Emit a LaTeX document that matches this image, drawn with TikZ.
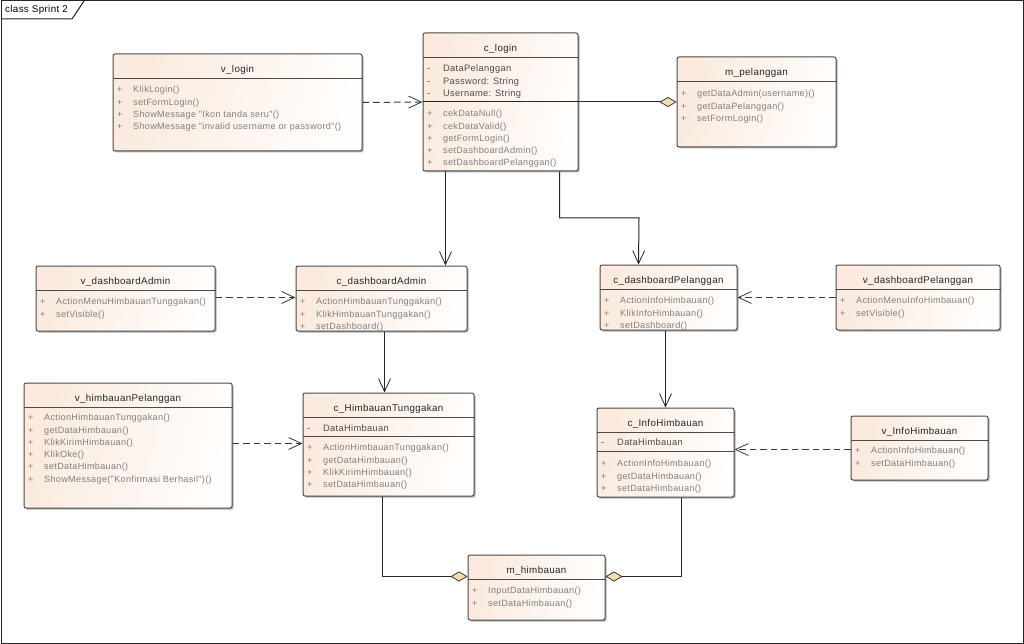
\documentclass[tikz,border=0pt]{standalone}
\usepackage{fontspec}
\setmainfont{Liberation Sans}
\newfontfamily\umlfont[LetterSpace=3.5]{Liberation Sans}
\usetikzlibrary{arrows.meta, shadows, calc}
\definecolor{classpeach}{HTML}{FBEADD}
\definecolor{classwhite}{HTML}{FFFEFD}
\definecolor{classedge}{HTML}{4A4A4A}
\definecolor{diamondtan}{HTML}{F1DDB2}
\tikzstyle{classbox} = [draw=classedge, line width=1pt, rounded corners=2pt, rectangle, inner sep=0pt, left color=classpeach, right color=classwhite, shading angle=75, drop shadow={shadow xshift=1.5pt, shadow yshift=-1.5pt, opacity=.3, fill=black}]
\tikzstyle{classtitle} = [font=\umlfont\fontsize{9.8}{12}\selectfont, text=black!85, inner sep=0pt]
\tikzstyle{attrrow} = [font=\umlfont\fontsize{9.3}{11}\selectfont, text=black!70, inner sep=0pt, text height=6.5pt, text depth=2pt]
\tikzstyle{oprow} = [font=\umlfont\fontsize{9.1}{11}\selectfont, text=black!50, inner sep=0pt, text height=6.5pt, text depth=2pt]
\tikzstyle{usage} = [draw=black!78, line width=1pt, dash pattern=on 6.5pt off 4pt, -{Straight Barb[length=13pt, width=12pt, line width=.8pt]}]
\tikzstyle{assoc} = [draw=black!85, line width=1pt, -{Straight Barb[length=13pt, width=12pt, line width=.8pt]}]
\tikzstyle{aggr} = [draw=black!85, line width=1pt, -{Diamond[length=17pt, width=10pt, fill=diamondtan, line width=.7pt]}]

% name, left, top, right, bottom, title
\newcommand{\classnode}[6]{
  \node [classbox, minimum width={(#4-#2)*1pt}, minimum height={(#5-#3)*1pt}] (#1) at ({(#2+#4)/2},{(#3+#5)/2}) {};
  \node [classtitle] (#1-title) at ($(#1.north)+(0,16)$) {#6};
  \draw [classedge, line width=1pt] ([yshift=-25pt]#1.north west) -- ([yshift=-25pt]#1.north east);
}
% box, row style, sign, offset from top of box, rows
\newcommand{\classrows}[5]{
  \foreach \rowtext [count=\rowno from 0] in {#5} {
    \node [#2, anchor=west] (#1-#2-sign\rowno) at ([xshift=4.5pt, yshift={-(#4+12.3*\rowno)*1pt}]#1.north west) {#3};
    \node [#2, anchor=west] (#1-#2-\rowno) at ([xshift=20.5pt, yshift={-(#4+12.3*\rowno)*1pt}]#1.north west) {\rowtext};
  }
}

\begin{document}
\begin{tikzpicture}[x=1pt,y=-1pt]
\useasboundingbox (0,0) rectangle (1024,644);
\fill [white] (0,0) rectangle (1024,644);

% frame
\coordinate (corner) at (1,1);
\draw [black!85, line width=1pt] (corner) rectangle (1023,643);
\node [anchor=west, font=\umlfont\fontsize{9.8}{12}\selectfont, inner sep=0pt] (frametitle) at (5,10) {class Sprint 2};
\draw [black!85, line width=1pt] (1,19) -- (72,19) -- (84,1);

% views and controllers
\classnode{v_login}{113}{54}{362}{151}{v\_login}
\classrows{v_login}{oprow}{+}{37}{KlikLogin(), setFormLogin(), {ShowMessage "Ikon tanda seru"()}, {ShowMessage "invalid username or password"()}}

\classnode{c_login}{423}{33}{578}{171}{c\_login}
\classrows{c_login}{attrrow}{-}{37}{DataPelanggan, {Password: String}, {Username: String}}
\classrows{c_login}{oprow}{+}{82}{cekDataNull(), cekDataValid(), getFormLogin(), setDashboardAdmin(), setDashboardPelanggan()}

\classnode{m_pelanggan}{677}{57}{836}{147}{m\_pelanggan}
\classrows{m_pelanggan}{oprow}{+}{38}{getDataAdmin(username)(), getDataPelanggan(), setFormLogin()}

\classnode{v_dashboardAdmin}{36}{266}{215}{331}{v\_dashboardAdmin}
\classrows{v_dashboardAdmin}{oprow}{+}{37}{ActionMenuHimbauanTunggakan(), setVisible()}

\classnode{c_dashboardAdmin}{296}{266}{467}{331}{c\_dashboardAdmin}
\classrows{c_dashboardAdmin}{oprow}{+}{37}{ActionHimbauanTunggakan(), KlikHimbauanTunggakan(), setDashboard()}

\classnode{c_dashboardPelanggan}{600}{265}{737}{330}{c\_dashboardPelanggan}
\classrows{c_dashboardPelanggan}{oprow}{+}{37}{ActionInfoHimbauan(), KlikInfoHimbauan(), setDashboard()}

\classnode{v_dashboardPelanggan}{836}{265}{1000}{330}{v\_dashboardPelanggan}
\classrows{v_dashboardPelanggan}{oprow}{+}{37}{ActionMenuInfoHimbauan(), setVisible()}

\classnode{v_himbauanPelanggan}{24}{383}{232}{508}{v\_himbauanPelanggan}
\classrows{v_himbauanPelanggan}{oprow}{+}{36}{ActionHimbauanTunggakan(), getDataHimbauan(), KlikKirimHimbauan(), KlikOke(), setDataHimbauan(), {ShowMessage("Konfirmasi Berhasil")()}}

\classnode{c_HimbauanTunggakan}{303}{393}{474}{496}{c\_HimbauanTunggakan}
\classrows{c_HimbauanTunggakan}{attrrow}{-}{37}{DataHimbauan}
\classrows{c_HimbauanTunggakan}{oprow}{+}{56}{ActionHimbauanTunggakan(), getDataHimbauan(), KlikKirimHimbauan(), setDataHimbauan()}
\draw [classedge, line width=1pt] ([yshift=-44pt]c_HimbauanTunggakan.north west) -- ([yshift=-44pt]c_HimbauanTunggakan.north east);

\classnode{c_InfoHimbauan}{597}{408}{734}{497}{c\_InfoHimbauan}
\classrows{c_InfoHimbauan}{attrrow}{-}{36}{DataHimbauan}
\classrows{c_InfoHimbauan}{oprow}{+}{57}{ActionInfoHimbauan(), getDataHimbauan(), setDataHimbauan()}
\draw [classedge, line width=1pt] ([yshift=-44pt]c_InfoHimbauan.north west) -- ([yshift=-44pt]c_InfoHimbauan.north east);

\classnode{v_InfoHimbauan}{851}{416}{988}{480}{v\_InfoHimbauan}
\classrows{v_InfoHimbauan}{oprow}{+}{36}{ActionInfoHimbauan(), setDataHimbauan()}

\classnode{m_himbauan}{468}{555}{605}{620}{m\_himbauan}
\classrows{m_himbauan}{oprow}{+}{37}{InputDataHimbauan(), setDataHimbauan()}

% connectors
\draw [usage] (v_login.east) -- (c_login.west);
\draw [aggr] (c_login.west) -- (m_pelanggan.west);
\draw [assoc] ([xshift=23pt]c_login.south west) -- ([xshift=150pt]c_dashboardAdmin.north west);
\draw [assoc] ([xshift=137pt]c_login.south west) |- (639,218) -- ([xshift=39pt]c_dashboardPelanggan.north west);
\draw [usage] ([yshift=-32pt]v_dashboardAdmin.north east) -- ([yshift=-32pt]c_dashboardAdmin.north west);
\draw [usage] ([yshift=-33pt]v_dashboardPelanggan.north west) -- ([yshift=-33pt]c_dashboardPelanggan.north east);
\draw [assoc] ([xshift=89pt]c_dashboardAdmin.south west) -- ([xshift=82pt]c_HimbauanTunggakan.north west);
\draw [assoc] ([xshift=66pt]c_dashboardPelanggan.south west) -- ([xshift=69pt]c_InfoHimbauan.north west);
\draw [usage] ([yshift=-61pt]v_himbauanPelanggan.north east) -- ([yshift=-51pt]c_HimbauanTunggakan.north west);
\draw [usage] ([yshift=-34pt]v_InfoHimbauan.north west) -- ([yshift=-42pt]c_InfoHimbauan.north east);
\draw [aggr] ([xshift=80pt]c_HimbauanTunggakan.south west) |- ([yshift=-22pt]m_himbauan.north west);
\draw [aggr] ([xshift=85pt]c_InfoHimbauan.south west) |- ([yshift=-22pt]m_himbauan.north east);
\end{tikzpicture}
\end{document}
